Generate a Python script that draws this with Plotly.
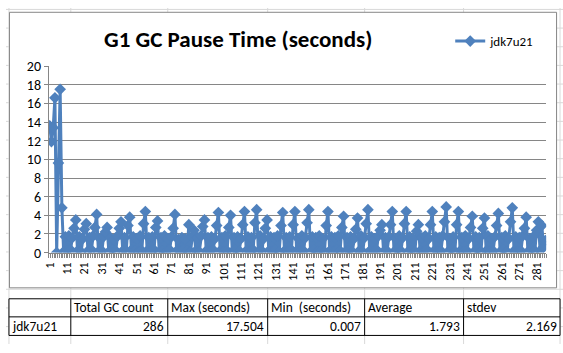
import plotly.graph_objects as go

W, H = 563, 353

# ---------------- data ----------------
series_name = "jdk7u21"
title_text = "G1 GC Pause Time (seconds)"
categories = list(range(1, 287))
pause_seconds = [
    13.6, 11.9, 13.4, 16.6, 0.007, 9.6, 17.504, 4.8, 0.1, 1.7,
    0.2, 1.8, 0.3, 1.6, 2.6, 3.5, 0.2, 1.7, 0.1, 1.5,
    2.5, 3.1, 0.2, 1.6, 0.3, 1.8, 2.7, 4.1, 0.1, 1.5,
    0.2, 1.7, 2.2, 2.7, 0.1, 1.6, 0.3, 1.4, 0.2, 1.8,
    2.6, 3.3, 0.2, 1.6, 0.1, 2.9, 3.8, 0.3, 1.7, 0.2,
    1.5, 0.1, 1.8, 0.2, 3.1, 4.4, 0.2, 1.6, 0.1, 1.7,
    0.3, 2.7, 3.4, 0.1, 1.6, 0.2, 1.8, 0.1, 1.5, 0.3,
    1.7, 2.6, 4.1, 0.2, 1.4, 0.1, 1.6, 0.3, 1.5, 0.2,
    3.0, 0.1, 1.7, 2.4, 0.2, 1.6, 0.1, 1.8, 2.8, 3.5,
    0.2, 1.6, 0.1, 1.7, 0.3, 1.5, 2.9, 4.3, 0.2, 1.6,
    0.1, 1.8, 0.2, 2.7, 4.0, 0.1, 1.6, 0.3, 1.7, 0.2,
    1.5, 3.0, 4.4, 0.2, 1.7, 0.1, 1.6, 0.3, 3.2, 4.6,
    0.1, 1.8, 0.2, 1.5, 2.6, 3.5, 0.2, 1.7, 0.1, 1.6,
    0.3, 1.8, 0.1, 2.9, 4.3, 0.2, 1.6, 0.1, 1.7, 0.3,
    3.0, 4.4, 0.2, 1.5, 0.1, 1.8, 0.2, 1.6, 3.2, 4.6,
    0.1, 1.7, 0.3, 1.6, 0.1, 1.8, 0.2, 1.5, 0.1, 2.9,
    4.4, 0.2, 1.7, 0.1, 1.6, 0.3, 1.8, 0.2, 2.7, 3.9,
    0.1, 1.6, 0.2, 1.7, 0.1, 1.5, 2.5, 3.7, 0.2, 1.8,
    0.1, 1.6, 3.1, 4.6, 0.2, 1.7, 0.1, 1.5, 0.3, 1.8,
    2.4, 3.0, 0.1, 1.6, 0.2, 1.7, 3.0, 4.4, 0.1, 1.5,
    0.3, 1.8, 0.2, 1.6, 3.1, 4.4, 0.1, 1.7, 0.2, 1.5,
    0.1, 2.3, 3.0, 0.2, 1.6, 0.1, 1.8, 0.3, 1.5, 3.0,
    4.4, 0.2, 1.7, 0.1, 1.6, 0.2, 1.8, 3.3, 4.9, 0.1,
    1.5, 0.3, 1.7, 0.1, 3.0, 4.4, 0.2, 1.6, 0.1, 1.8,
    0.2, 1.5, 2.7, 3.9, 0.1, 1.7, 0.3, 1.6, 0.1, 2.6,
    3.7, 0.2, 1.8, 0.1, 1.5, 0.2, 1.7, 2.9, 4.2, 0.1,
    1.6, 0.3, 1.8, 0.1, 1.5, 3.3, 4.8, 0.2, 1.7, 0.1,
    1.6, 0.2, 1.8, 2.6, 3.8, 0.1, 1.5, 0.3, 1.7, 0.2,
    2.4, 3.3, 0.2, 2.9, 0.6, 1.3,
]
x_tick_values = list(range(1, 287, 10))
x_tick_labels = [str(v) for v in x_tick_values]
y_tick_values = list(range(0, 21, 2))
y_tick_labels = [str(v) for v in y_tick_values]

table_header = ["", "Total GC count", "Max (seconds)", "Min  (seconds)", "Average", "stdev"]
table_row = ["jdk7u21", "286", "17.504", "0.007", "1.793", "2.169"]

# ---------------- styling ----------------
BLUE = "#4F81BD"
AXIS_GRAY = "#868686"
SHEET_GRID = "#D9D9D9"
FONT = "Carlito, Lato, 'Open Sans', sans-serif"


def px(x):
    return x / W


def py(y):
    return 1 - y / H


fig = go.Figure()
fig.add_trace(go.Scatter(
    x=categories, y=pause_seconds, name=series_name,
    mode="lines+markers",
    line=dict(color=BLUE, width=3),
    marker=dict(symbol="diamond", size=9, color=BLUE),
))

shapes = []
col_edges = [3, 65.5, 163.5, 264.5, 362.5, 462.5, 560]
# spreadsheet grid behind the chart objects
for xc in col_edges:
    shapes.append(dict(type="line", xref="paper", yref="paper", layer="below",
                       x0=px(xc), x1=px(xc), y0=0, y1=1,
                       line=dict(color=SHEET_GRID, width=1)))
yr = 1.5
while yr < H:
    shapes.append(dict(type="line", xref="paper", yref="paper", layer="below",
                       x0=0, x1=1, y0=py(yr), y1=py(yr),
                       line=dict(color=SHEET_GRID, width=1)))
    yr += 19.6
# chart area
shapes.append(dict(type="rect", xref="paper", yref="paper", layer="below",
                   x0=px(3.5), x1=px(556.5), y0=py(294), y1=py(4.5),
                   fillcolor="white", line=dict(color=AXIS_GRAY, width=1)))
# statistics table
tab_top, tab_mid, tab_bot = 305.5, 324.5, 344
shapes.append(dict(type="rect", xref="paper", yref="paper", layer="below",
                   x0=px(col_edges[0]), x1=px(col_edges[-1]), y0=py(tab_bot), y1=py(tab_top),
                   fillcolor="white", line=dict(color="black", width=1)))
shapes.append(dict(type="line", xref="paper", yref="paper", layer="below",
                   x0=px(col_edges[0]), x1=px(col_edges[-1]), y0=py(tab_mid), y1=py(tab_mid),
                   line=dict(color="black", width=1)))
for xc in col_edges[1:-1]:
    shapes.append(dict(type="line", xref="paper", yref="paper", layer="below",
                       x0=px(xc), x1=px(xc), y0=py(tab_bot), y1=py(tab_top),
                       line=dict(color="black", width=1)))

annotations = [dict(text="<b>" + title_text + "</b>", xref="paper", yref="paper",
                    x=px(235), y=py(33), xanchor="center", yanchor="middle",
                    showarrow=False, font=dict(family=FONT, size=23, color="black"))]
for i, txt in enumerate(table_header):
    if not txt:
        continue
    annotations.append(dict(text=txt, xref="paper", yref="paper",
                            x=px(col_edges[i] + 1.5), y=py((tab_top + tab_mid) / 2),
                            xanchor="left", yanchor="middle", showarrow=False,
                            font=dict(family=FONT, size=13.5, color="black")))
for i, txt in enumerate(table_row):
    if i == 0:
        annotations.append(dict(text=txt, xref="paper", yref="paper",
                                x=px(col_edges[0] + 1.5), y=py((tab_mid + tab_bot) / 2),
                                xanchor="left", yanchor="middle", showarrow=False,
                                font=dict(family=FONT, size=13.5, color="black")))
    else:
        annotations.append(dict(text=txt, xref="paper", yref="paper",
                                x=px(col_edges[i + 1] - 1.5), y=py((tab_mid + tab_bot) / 2),
                                xanchor="right", yanchor="middle", showarrow=False,
                                font=dict(family=FONT, size=13.5, color="black")))

fig.update_layout(
    width=W, height=H,
    margin=dict(l=0, r=0, t=0, b=0),
    paper_bgcolor="white", plot_bgcolor="rgba(0,0,0,0)",
    showlegend=True,
    legend=dict(x=px(449), y=py(19), xanchor="left", yanchor="top",
                bgcolor="rgba(0,0,0,0)", itemwidth=30,
                font=dict(family=FONT, size=13, color="black")),
    shapes=shapes, annotations=annotations,
    xaxis=dict(domain=[px(43.3), px(546)], range=[0.5, 286.5],
               tickmode="array", tickvals=x_tick_values, ticktext=x_tick_labels,
               tickangle=-90, ticks="", showgrid=False, zeroline=False,
               ticklabelstandoff=4,
               showline=True, linecolor=AXIS_GRAY, linewidth=1,
               tickfont=dict(family=FONT, size=12, color="black"),
               minor=dict(ticks="outside", ticklen=4, tick0=0.5, dtick=1,
                          tickcolor=AXIS_GRAY, showgrid=False)),
    yaxis=dict(domain=[py(257), py(61)], range=[0, 20],
               tickmode="array", tickvals=y_tick_values, ticktext=y_tick_labels,
               ticks="outside", ticklen=4, tickcolor=AXIS_GRAY,
               showgrid=True, gridcolor=AXIS_GRAY, gridwidth=1, zeroline=False,
               showline=True, linecolor=AXIS_GRAY, linewidth=1,
               tickfont=dict(family=FONT, size=14, color="black")),
)

fig.write_html("out.html")
